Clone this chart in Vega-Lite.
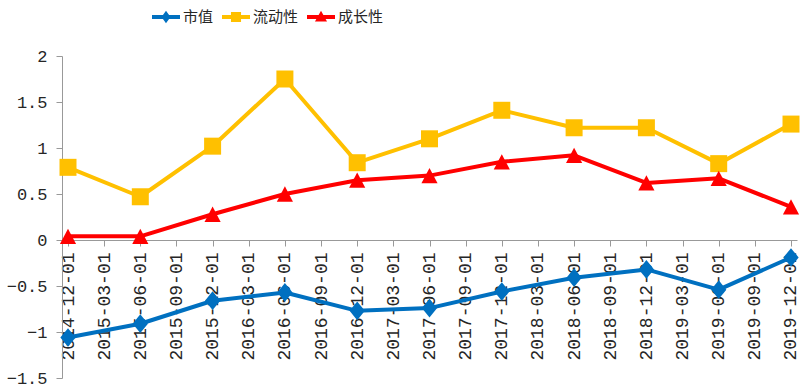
{
  "$schema": "https://vega.github.io/schema/vega-lite/v6.json",
  "width": 735,
  "height": 322,
  "autosize": {"type": "none"},
  "padding": {"left": 62, "top": 56, "right": 15, "bottom": 14},
  "background": "white",
  "data": {
    "values": [
      {"date": "2014-12-01", "series": "市值", "value": -1.06},
      {"date": "2015-06-01", "series": "市值", "value": -0.91},
      {"date": "2015-12-01", "series": "市值", "value": -0.66},
      {"date": "2016-06-01", "series": "市值", "value": -0.57},
      {"date": "2016-12-01", "series": "市值", "value": -0.77},
      {"date": "2017-06-01", "series": "市值", "value": -0.74},
      {"date": "2017-12-01", "series": "市值", "value": -0.56},
      {"date": "2018-06-01", "series": "市值", "value": -0.41},
      {"date": "2018-12-01", "series": "市值", "value": -0.32},
      {"date": "2019-06-01", "series": "市值", "value": -0.54},
      {"date": "2019-12-01", "series": "市值", "value": -0.19},
      {"date": "2014-12-01", "series": "流动性", "value": 0.79},
      {"date": "2015-06-01", "series": "流动性", "value": 0.47},
      {"date": "2015-12-01", "series": "流动性", "value": 1.02},
      {"date": "2016-06-01", "series": "流动性", "value": 1.75},
      {"date": "2016-12-01", "series": "流动性", "value": 0.84},
      {"date": "2017-06-01", "series": "流动性", "value": 1.1},
      {"date": "2017-12-01", "series": "流动性", "value": 1.41},
      {"date": "2018-06-01", "series": "流动性", "value": 1.22},
      {"date": "2018-12-01", "series": "流动性", "value": 1.22},
      {"date": "2019-06-01", "series": "流动性", "value": 0.83},
      {"date": "2019-12-01", "series": "流动性", "value": 1.26},
      {"date": "2014-12-01", "series": "成长性", "value": 0.04},
      {"date": "2015-06-01", "series": "成长性", "value": 0.04},
      {"date": "2015-12-01", "series": "成长性", "value": 0.28},
      {"date": "2016-06-01", "series": "成长性", "value": 0.5},
      {"date": "2016-12-01", "series": "成长性", "value": 0.65},
      {"date": "2017-06-01", "series": "成长性", "value": 0.7},
      {"date": "2017-12-01", "series": "成长性", "value": 0.85},
      {"date": "2018-06-01", "series": "成长性", "value": 0.92},
      {"date": "2018-12-01", "series": "成长性", "value": 0.62},
      {"date": "2019-06-01", "series": "成长性", "value": 0.67},
      {"date": "2019-12-01", "series": "成长性", "value": 0.36}
    ]
  },
  "encoding": {
    "x": {
      "field": "date",
      "type": "ordinal",
      "sort": null,
      "scale": {
        "type": "point",
        "padding": 0.166,
        "domain": ["2014-12-01", "2015-03-01", "2015-06-01", "2015-09-01", "2015-12-01", "2016-03-01", "2016-06-01", "2016-09-01", "2016-12-01", "2017-03-01", "2017-06-01", "2017-09-01", "2017-12-01", "2018-03-01", "2018-06-01", "2018-09-01", "2018-12-01", "2019-03-01", "2019-06-01", "2019-09-01", "2019-12-01"]
      },
      "axis": {
        "title": null,
        "orient": "bottom",
        "offset": -138,
        "labelAngle": 270,
        "labelFont": "Liberation Mono",
        "labelFontSize": 18,
        "labelColor": "#262626",
        "labelPadding": 6,
        "tickSize": 6,
        "tickColor": "#999999",
        "domainColor": "#999999",
        "grid": false
      }
    },
    "y": {
      "field": "value",
      "type": "quantitative",
      "scale": {"domain": [-1.5, 2], "nice": false, "zero": false},
      "axis": {
        "title": null,
        "values": [-1.5, -1, -0.5, 0, 0.5, 1, 1.5, 2],
        "format": ".1~f",
        "labelFont": "Liberation Mono",
        "labelFontSize": 17,
        "labelColor": "#262626",
        "labelPadding": 9,
        "tickSize": 6,
        "tickColor": "#999999",
        "domainColor": "#999999",
        "grid": false
      }
    }
  },
  "layer": [
    {
      "transform": [{"filter": "datum.series === '市值'"}],
      "mark": {"type": "line", "color": "#0070C0", "strokeWidth": 4, "strokeJoin": "round"}
    },
    {
      "transform": [{"filter": "datum.series === '市值'"}],
      "mark": {"type": "point", "filled": true, "opacity": 1, "color": "#0070C0", "size": 289, "shape": "M0,-1.1L0.9,0L0,1.1L-0.9,0Z"}
    },
    {
      "transform": [{"filter": "datum.series === '流动性'"}],
      "mark": {"type": "line", "color": "#FFC000", "strokeWidth": 4, "strokeJoin": "round"}
    },
    {
      "transform": [{"filter": "datum.series === '流动性'"}],
      "mark": {"type": "point", "filled": true, "opacity": 1, "color": "#FFC000", "size": 289, "shape": "square"}
    },
    {
      "transform": [{"filter": "datum.series === '成长性'"}],
      "mark": {"type": "line", "color": "#FF0000", "strokeWidth": 4, "strokeJoin": "round"}
    },
    {
      "transform": [{"filter": "datum.series === '成长性'"}],
      "mark": {"type": "point", "filled": true, "opacity": 1, "color": "#FF0000", "size": 289, "shape": "M0,-0.9L0.95,0.9L-0.95,0.9Z"}
    },
    {
      "transform": [{"filter": "false"}],
      "mark": {"type": "point", "filled": true, "opacity": 1},
      "encoding": {
        "color": {
          "field": "series",
          "type": "nominal",
          "scale": {"domain": ["市值", "流动性", "成长性"], "range": ["#0070C0", "#FFC000", "#FF0000"]},
          "legend": {
            "title": null,
            "orient": "none",
            "direction": "horizontal",
            "legendX": 90,
            "legendY": -53,
            "padding": 0,
            "columnPadding": 8,
            "labelOffset": 3,
            "labelFont": "Noto Sans CJK SC",
            "labelFontSize": 15,
            "labelColor": "#262626",
            "symbolSize": 784,
            "symbolStrokeWidth": 0,
            "symbolOpacity": 1
          }
        },
        "shape": {
          "field": "series",
          "type": "nominal",
          "scale": {
            "domain": ["市值", "流动性", "成长性"],
            "range": [
              "M-1,-0.14H1V0.14H-1Z M0,-0.45L0.32,0L0,0.45L-0.32,0Z",
              "M-1,-0.14H1V0.14H-1Z M-0.36,-0.36H0.36V0.36H-0.36Z",
              "M-1,-0.14H1V0.14H-1Z M0,-0.45L0.43,0.33H-0.43Z"
            ]
          },
          "legend": {
            "title": null,
            "orient": "none",
            "direction": "horizontal",
            "legendX": 90,
            "legendY": -53,
            "padding": 0,
            "columnPadding": 8,
            "labelOffset": 3,
            "labelFont": "Noto Sans CJK SC",
            "labelFontSize": 15,
            "labelColor": "#262626",
            "symbolSize": 784,
            "symbolStrokeWidth": 0,
            "symbolOpacity": 1
          }
        }
      }
    }
  ],
  "config": {
    "view": {"stroke": null},
    "axis": {"domainWidth": 1, "tickWidth": 1}
  }
}
